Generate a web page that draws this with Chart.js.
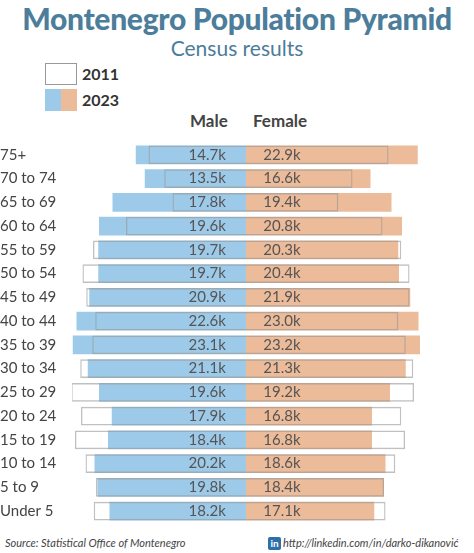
<!DOCTYPE html>
<html><head><meta charset="utf-8">
<script src="https://cdn.jsdelivr.net/npm/chart.js@4"></script>
<style>
body{margin:0;width:474px;height:553px;background:#fff;position:relative;overflow:hidden;font-family:Lato,sans-serif}
.a{position:absolute;white-space:nowrap}
#title{left:0;width:474px;text-align:center;top:0;font-size:30px;font-weight:900;color:#4c7d9a;letter-spacing:-0.3px}
#sub{left:0;width:474px;text-align:center;top:35px;font-size:21px;color:#4c7d9a}
.box{position:absolute;width:30px;height:20px}
.lg{font-size:16px;font-weight:700;color:#333}
.hd{font-size:17px;font-weight:700;color:#444;top:110px}
#src{left:5px;top:536px;font-size:11px;font-style:italic;color:#444}
#lnk{left:283px;top:536px;font-size:11px;font-style:italic;color:#444}
#in{position:absolute;left:268px;top:537px;width:13px;height:13px;background:#2d6fa8;color:#fff;font-size:10px;font-weight:700;text-align:center;line-height:13px;border-radius:2px}
#wrap{position:absolute;left:0;top:134px;width:474px;height:398px}
</style></head><body>
<div class="a" id="title">Montenegro Population Pyramid</div>
<div class="a" id="sub">Census results</div>
<div class="box" style="left:45px;top:63px;border:1px solid #999;background:#fff;width:30px;height:20px"></div>
<div class="a lg" style="left:82px;top:64px">2011</div>
<div class="box" style="left:45px;top:89px;width:16px;height:22px;background:#9ecae9"></div>
<div class="box" style="left:61px;top:89px;width:16px;height:22px;background:#ebbb9a"></div>
<div class="a lg" style="left:82px;top:90px">2023</div>
<div class="a hd" style="left:190px">Male</div>
<div class="a hd" style="left:253px">Female</div>
<div id="wrap"><canvas id="c"></canvas></div>
<div class="a" id="src">Source: Statistical Office of Montenegro</div>
<div id="in">in</div>
<div class="a" id="lnk">http://linkedin.com/in/darko-dikanović</div>
<script>
const categories=["75+","70 to 74","65 to 69","60 to 64","55 to 59","50 to 54","45 to 49","40 to 44","35 to 39","30 to 34","25 to 29","20 to 24","15 to 19","10 to 14","5 to 9","Under 5"];
const male2023=[14.7,13.5,17.8,19.6,19.7,19.7,20.9,22.6,23.1,21.1,19.6,17.9,18.4,20.2,19.8,18.2];
const female2023=[22.9,16.6,19.4,20.8,20.3,20.4,21.9,23.0,23.2,21.3,19.2,16.8,16.8,18.6,18.4,17.1];
const male2011=[13.0,10.9,9.8,16.0,20.4,21.8,21.3,20.1,20.5,22.1,23.3,22.0,22.8,21.4,20.0,20.3];
const female2011=[19.0,14.2,12.3,18.2,20.7,21.8,21.8,20.3,21.3,22.3,22.4,20.7,21.2,19.9,18.4,18.6];
const neg=a=>a.map(v=>-v);
const common={grouped:false,barPercentage:0.78,categoryPercentage:1};
const labelPlugin={id:'vl',afterDatasetsDraw(ch){
  const {ctx,scales:{x,y}}=ch;ctx.save();ctx.font='15px Lato';ctx.fillStyle='#555';ctx.textBaseline='middle';
  categories.forEach((c,i)=>{const yy=y.getPixelForValue(i);
    ctx.textAlign='right';ctx.fillText(male2023[i].toFixed(1)+'k',x.getPixelForValue(-2.7),yy);
    ctx.textAlign='left';ctx.fillText(female2023[i].toFixed(1)+'k',x.getPixelForValue(2.3),yy);});
  ctx.restore();}};
new Chart(document.getElementById('c'),{type:'bar',
 data:{labels:categories,datasets:[
  {...common,data:neg(male2023),backgroundColor:'#9ecae9',order:2},
  {...common,data:female2023,backgroundColor:'#ebbb9a',order:2},
  {...common,data:neg(male2011),backgroundColor:'rgba(0,0,0,0)',borderColor:'rgba(150,150,150,0.6)',borderWidth:1.3,order:1},
  {...common,data:female2011,backgroundColor:'rgba(0,0,0,0)',borderColor:'rgba(150,150,150,0.6)',borderWidth:1.3,order:1}]},
 options:{indexAxis:'y',responsive:true,maintainAspectRatio:false,animation:false,
  layout:{padding:{left:0,right:54,top:0,bottom:0}},
  plugins:{legend:{display:false},tooltip:{enabled:false}},
  scales:{x:{display:false,min:-23.2,max:23.2},
   y:{grid:{display:false},border:{display:false},afterFit(s){s.width=72;},
      ticks:{crossAlign:'far',padding:0,color:'#444',font:{family:'Lato',size:15}}}}},
 plugins:[labelPlugin]});
</script></body></html>
